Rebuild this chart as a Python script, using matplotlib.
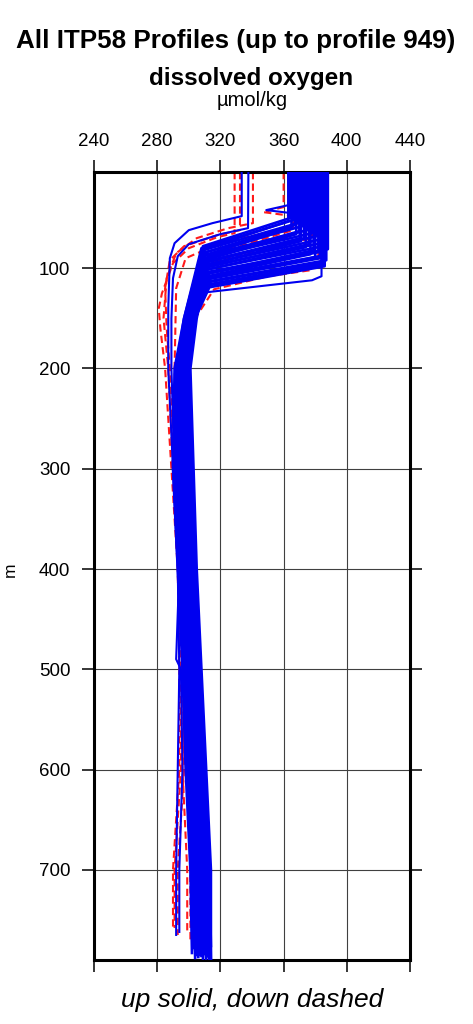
import matplotlib
matplotlib.use("Agg")
import matplotlib.pyplot as plt

plt.rcParams['font.family'] = ['Liberation Sans', 'DejaVu Sans']

# ---------------- text ----------------
title = "All ITP58 Profiles (up to profile 949)"
x_title = "dissolved oxygen"
x_units = "µmol/kg"
y_label = "m"
note = "up solid, down dashed"
x_ticks = [240, 280, 320, 360, 400, 440]
y_ticks = [100, 200, 300, 400, 500, 600, 700]

# ---------------- main "up" profiles (blue, solid) ----------------
# mixed-layer oxygen, depth where the drop starts / ends, oxygen after drop
up_ml = [364, 366, 363, 369, 367, 372, 365, 375, 370, 378, 368, 381, 373, 384, 371, 387,
         376, 385, 374, 388, 379, 382, 377, 386, 380, 383, 387, 384, 386, 385, 386]
up_top = [50, 52, 53, 55, 57, 58, 60, 62, 63, 65, 66, 68, 70, 71, 73, 74,
          76, 78, 79, 81, 82, 84, 86, 87, 89, 90, 92, 94, 95, 97, 98]
up_bot = [78, 80, 81, 82, 84, 85, 87, 88, 89, 91, 92, 93, 95, 96, 97, 98,
          100, 101, 102, 104, 105, 106, 108, 109, 110, 111, 113, 114, 116, 117, 119]
up_after = [309, 308, 310, 309, 311, 308, 310, 309, 312, 307, 310, 311, 309, 312, 310, 311,
            309, 312, 310, 311, 313, 310, 312, 311, 313, 312, 313, 312, 313, 313, 313]
up_150 = [300, 297, 302, 299, 303, 298, 301, 300, 304, 297, 302, 301, 299, 305, 300, 302,
          301, 303, 299, 302, 304, 300, 302, 301, 303, 302, 304, 301, 303, 302, 304]
up_200 = [295, 292, 298, 294, 299, 293, 297, 296, 300, 291, 298, 296, 294, 301, 295, 297,
          296, 299, 293, 298, 300, 295, 297, 296, 299, 297, 300, 295, 298, 297, 300]
up_300 = [296, 291, 300, 294, 301, 292, 298, 297, 302, 290, 299, 296, 293, 303, 295, 298,
          297, 300, 292, 299, 301, 294, 296, 295, 300, 298, 302, 296, 299, 297, 301]
up_400 = [298, 294, 302, 296, 303, 295, 300, 299, 304, 293, 301, 298, 296, 305, 297, 300,
          299, 302, 295, 301, 303, 296, 298, 297, 302, 300, 304, 298, 301, 299, 303]
up_500 = [301, 297, 305, 299, 306, 298, 303, 302, 307, 296, 304, 301, 299, 308, 300, 303,
          302, 305, 298, 304, 306, 299, 301, 300, 305, 303, 307, 301, 304, 302, 306]
up_600 = [304, 299, 308, 302, 309, 300, 306, 305, 310, 298, 307, 304, 301, 311, 303, 306,
          304, 308, 300, 307, 309, 302, 303, 302, 307, 306, 310, 304, 307, 305, 309]
up_700 = [306, 302, 311, 305, 312, 303, 309, 308, 313, 301, 310, 307, 304, 314, 306, 309,
          307, 311, 303, 310, 312, 305, 306, 305, 310, 309, 313, 307, 310, 308, 312]
up_end = [782, 778, 786, 775, 788, 780, 784, 790, 776, 783, 787, 779, 785, 789, 777, 781,
          786, 774, 788, 790, 783, 779, 785, 787, 776, 782, 789, 780, 786, 784, 790]
up_end_oxy = [307, 303, 312, 306, 313, 304, 310, 309, 314, 302, 311, 308, 305, 314, 307, 310,
              308, 312, 304, 311, 313, 306, 307, 306, 311, 310, 314, 308, 311, 309, 313]

# ---------------- outlier "up" profiles (blue, solid) ----------------
odd_up_depth = [
    [4, 48, 55, 62, 75, 90, 140, 200, 300, 400, 500, 600, 700, 765],
    [4, 60, 66, 76, 88, 110, 150, 200, 300, 400, 490, 500, 600, 700, 762],
    [4, 108, 112, 124, 150, 200, 300, 400, 500, 600, 700, 785],
    [4, 36, 42, 46, 70, 95, 150, 200, 300, 400, 500, 600, 700, 780],
]
odd_up_oxy = [
    [333.5, 333.5, 315, 300, 291, 288, 287, 287, 290, 293, 294, 293, 292, 292],
    [337.7, 337.5, 320, 300, 293, 290, 289, 289, 291, 294, 292, 295, 296, 294, 294],
    [384, 384, 378, 311, 303, 298, 299, 301, 304, 307, 310, 311],
    [366, 366, 349, 370, 370, 306, 300, 296, 297, 299, 302, 305, 307, 308],
]

# ---------------- "down" profiles (red, dashed) ----------------
down_depth = [
    [4, 65, 69, 80, 95, 125, 140, 160, 200, 300, 400, 500, 600, 700, 760],
    [4, 55, 60, 70, 85, 110, 150, 200, 300, 400, 500, 600, 700, 765],
    [4, 39, 44, 48, 62, 88, 150, 200, 300, 400, 500, 600, 700, 770],
    [4, 96, 102, 108, 121, 150, 200, 300, 400, 500, 600, 700, 780],
    [4, 58, 75, 90, 120, 200, 300, 400, 500, 600, 700, 762],
    [4, 70, 95, 140, 200, 300, 400, 500, 600, 700, 770],
    [4, 62, 67, 78, 92, 120, 160, 200, 300, 400, 500, 600, 700, 758],
]
down_oxy = [
    [329, 329, 318, 300, 290, 283, 281, 282, 285, 289, 293, 294, 294, 290, 290],
    [340.6, 340.6, 325, 305, 292, 286, 284, 287, 290, 294, 296, 297, 293, 293],
    [360, 360, 347, 366, 366, 310, 299, 295, 297, 299, 302, 304, 306, 307],
    [382, 382, 377, 350, 316, 304, 298, 298, 300, 303, 305, 307, 308],
    [370, 368, 320, 298, 292, 291, 293, 295, 297, 296, 299, 299],
    [378, 378, 310, 302, 296, 295, 296, 298, 300, 301, 301],
    [332.4, 332.4, 318, 297, 288, 285, 286, 288, 291, 294, 295, 295, 291, 291],
]

# ---------------- figure ----------------
W, H = 473, 1024
fig = plt.figure(figsize=(W / 100, H / 100), dpi=100)
ax = fig.add_axes([94 / W, 1 - 960 / H, (410 - 94) / W, (960 - 172) / H])

for d, o in zip(down_depth, down_oxy):
    ax.plot(o, d, color='#ff1a1a', lw=1.5, ls=(0, (3.5, 2)), zorder=2)

for i in range(len(up_ml)):
    d = [4, up_top[i], up_bot[i], 150, 200, 300, 400, 500, 600, 700, up_end[i]]
    o = [up_ml[i], up_ml[i], up_after[i], up_150[i], up_200[i], up_300[i],
         up_400[i], up_500[i], up_600[i], up_700[i], up_end_oxy[i]]
    ax.plot(o, d, color='#0000f0', lw=1.9, zorder=3, solid_joinstyle='round')

for d, o in zip(odd_up_depth, odd_up_oxy):
    ax.plot(o, d, color='#0000f0', lw=1.5, zorder=3)

ax.set_xlim(240, 440)
ax.set_ylim(790, 4)
ax.set_xticks(x_ticks)
ax.set_yticks(y_ticks)
ax.grid(True, color='0.25', lw=0.8, zorder=1)
ax.set_axisbelow(True)
ax.tick_params(axis='x', which='both', direction='out', length=8.6, width=1.1,
               top=True, bottom=True, labeltop=True, labelbottom=False,
               labelsize=13.5, pad=7)
ax.tick_params(axis='y', which='both', direction='out', length=8.6, width=1.1,
               left=True, right=True, labelleft=True, labelright=False,
               labelsize=13.5, pad=8.5)
for s in ax.spines.values():
    s.set_linewidth(2.2)

fig.text(236 / W, 1 - 48.3 / H, title, ha='center', va='baseline',
         fontsize=18.7, fontweight='bold')
fig.text(251.5 / W, 1 - 85 / H, x_title, ha='center', va='baseline',
         fontsize=17.5, fontweight='bold')
fig.text(252.5 / W, 1 - 105.5 / H, x_units, ha='center', va='baseline', fontsize=14.5)
fig.text(10 / W, 1 - 570 / H, y_label, ha='center', va='center', rotation=90,
         fontsize=12.5)
fig.text(252.4 / W, 1 - 1006.7 / H, note, ha='center', va='baseline', fontsize=19,
         style='italic')

fig.savefig("out.png", dpi=100)
